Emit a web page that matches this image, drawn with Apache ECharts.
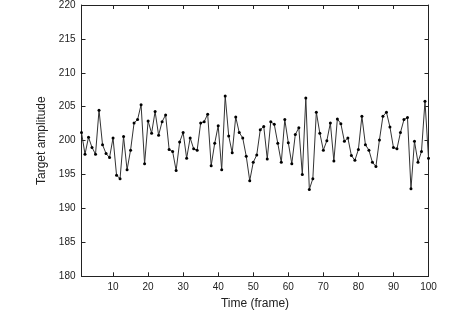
<!DOCTYPE html>
<html>
<head>
<meta charset="utf-8">
<script src="https://cdn.jsdelivr.net/npm/echarts@6/dist/echarts.min.js"></script>
<style>
  html, body { margin: 0; padding: 0; background: #fff; }
  #chart { width: 474px; height: 322px; }
</style>
</head>
<body>
<div id="chart"></div>
<script>
// Target amplitude measured at each frame (frames 1..100)
const amplitude = [
  201.2, 198.0, 200.5, 199.0, 198.0, 204.5, 199.4, 198.1, 197.5, 200.4,
  194.9, 194.4, 200.6, 195.7, 198.6, 202.6, 203.1, 205.3, 196.6, 202.9,
  201.1, 204.3, 200.8, 202.8, 203.8, 198.7, 198.4, 195.6, 199.8, 201.2,
  197.4, 200.4, 198.8, 198.6, 202.6, 202.8, 203.9, 196.3, 199.6, 202.2,
  195.7, 206.6, 200.7, 198.2, 203.5, 201.2, 200.4, 197.7, 194.1, 196.8,
  197.9, 201.6, 202.1, 197.3, 202.8, 202.4, 199.6, 196.8, 203.1, 199.7,
  196.6, 200.9, 201.9, 195.0, 206.3, 192.8, 194.4, 204.2, 201.1, 198.6,
  200.0, 202.6, 197.0, 203.2, 202.5, 199.9, 200.4, 197.8, 197.1, 198.7,
  203.6, 199.4, 198.6, 196.8, 196.2, 200.1, 203.6, 204.2, 202.0, 199.0,
  198.8, 201.2, 203.1, 203.4, 192.9, 199.9, 196.8, 198.4, 205.8, 197.4
];
const frames = amplitude.map((_, i) => i + 1);

const xTicks = [10, 20, 30, 40, 50, 60, 70, 80, 90, 100];
const yMin = 180, yMax = 220, yStep = 5;

const axisColor = '#222';
const textColor = '#222';
const fontFamily = '"Liberation Sans", Arial, sans-serif';

const chart = echarts.init(document.getElementById('chart'), null, { renderer: 'canvas' });

const baseX = {
  type: 'value', min: 1, max: 100,
  axisLine: { show: true, onZero: false, lineStyle: { color: axisColor, width: 1 } },
  axisTick: { show: true, inside: true, length: 4, customValues: xTicks, lineStyle: { color: axisColor } },
  splitLine: { show: false }
};
const baseY = {
  type: 'value', min: yMin, max: yMax, interval: yStep,
  axisLine: { show: true, onZero: false, lineStyle: { color: axisColor, width: 1 } },
  axisTick: { show: true, inside: true, length: 4, lineStyle: { color: axisColor } },
  splitLine: { show: false }
};

chart.setOption({
  animation: false,
  backgroundColor: '#fff',
  grid: { left: 81.5, right: 45.5, top: 4.7, bottom: 45.7, containLabel: false },
  xAxis: [
    Object.assign({}, baseX, {
      position: 'bottom',
      name: 'Time (frame)', nameLocation: 'middle', nameGap: 20,
      nameTextStyle: { fontSize: 12, color: textColor, fontFamily },
      axisLabel: { show: true, customValues: xTicks, fontSize: 10, color: textColor, fontFamily, margin: 6 }
    }),
    Object.assign({}, baseX, { position: 'top', axisLabel: { show: false } })
  ],
  yAxis: [
    Object.assign({}, baseY, {
      position: 'left',
      name: 'Target amplitude', nameLocation: 'middle', nameGap: 33, nameRotate: 90,
      nameTextStyle: { fontSize: 12, color: textColor, fontFamily },
      axisLabel: { show: true, fontSize: 10, color: textColor, fontFamily, margin: 6 }
    }),
    Object.assign({}, baseY, { position: 'right', axisLabel: { show: false } })
  ],
  series: [{
    type: 'line',
    xAxisIndex: 0, yAxisIndex: 0,
    data: frames.map((f, i) => [f, amplitude[i]]),
    symbol: 'circle', symbolSize: 3, showSymbol: true,
    lineStyle: { color: '#333', width: 1 },
    itemStyle: { color: '#000' },
    clip: false
  }]
});
</script>
</body>
</html>
